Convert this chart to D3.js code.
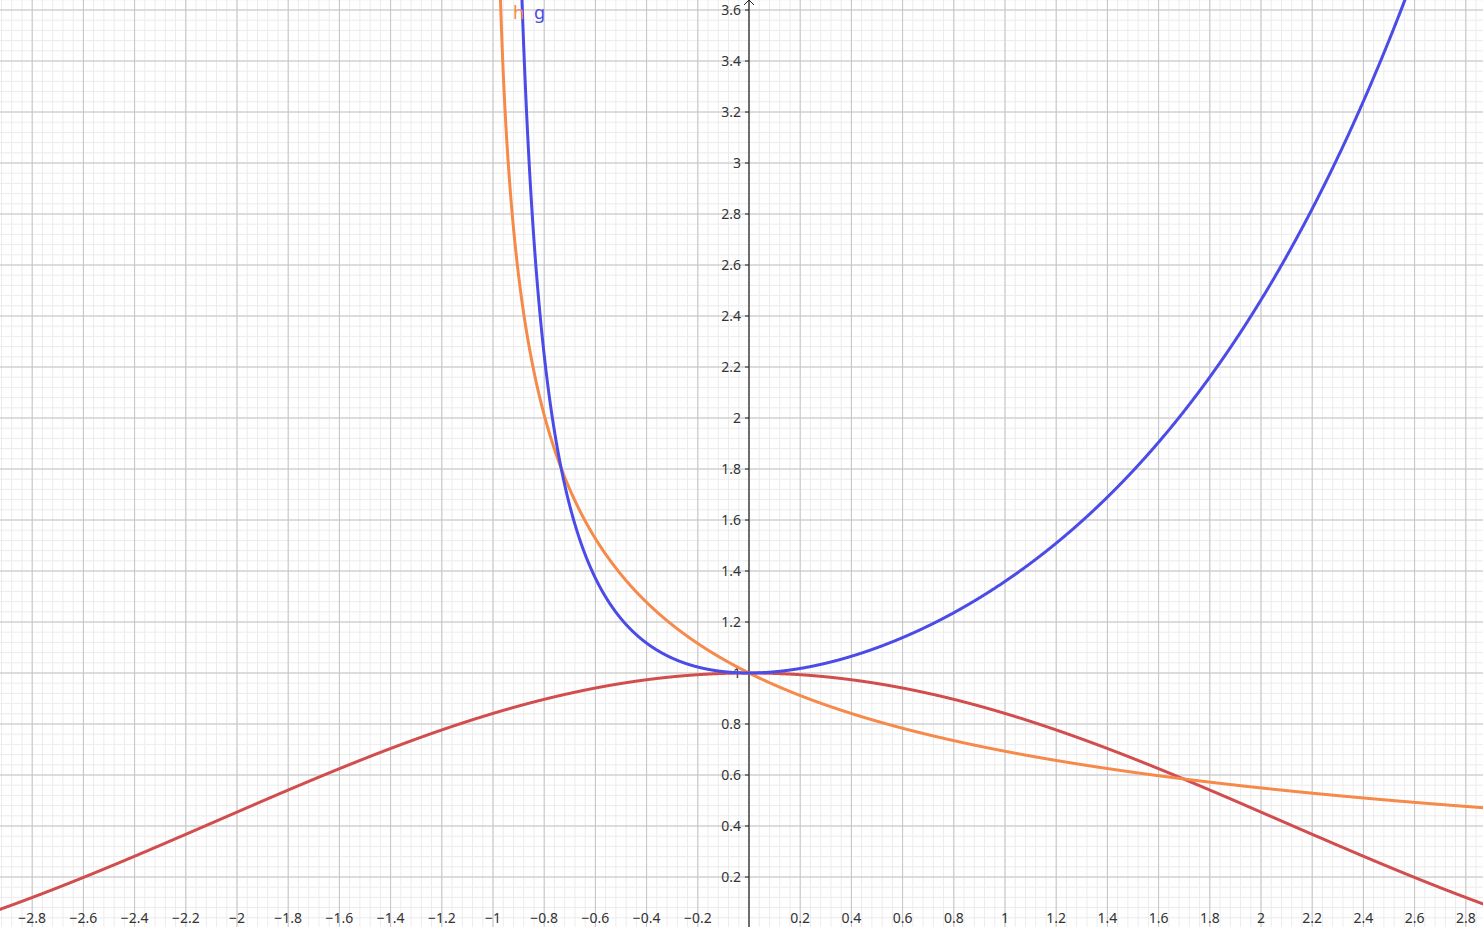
<!DOCTYPE html>
<html><head><meta charset="utf-8">
<script src="https://cdn.jsdelivr.net/npm/d3@7"></script>
<style>body{margin:0;background:#fff}svg{display:block}</style>
</head><body>
<svg id="chart" width="1483" height="927"></svg>
<script>
// plotted functions
const curves = [
  { name: "f", color: "#d24d4d", fn: (x) => (x === 0 ? 1 : Math.sin(x) / x), from: -3, to: 3 },
  { name: "h", color: "#f58a4a", fn: (x) => (x === 0 ? 1 : Math.log(1 + x) / x), from: -0.9999, to: 3 },
  { name: "g", color: "#4b4be8", fn: (x) => Math.exp(x) / (1 + x), from: -0.9999, to: 3 },
];
const xTicks = d3.range(-28, 29, 2).map((d) => d / 10).filter((d) => d !== 0);
const yTicks = d3.range(2, 37, 2).map((d) => d / 10);

const W = 1483, H = 927;
const svg = d3.select("#chart");
const x = d3.scaleLinear().domain([0, 1]).range([749, 1005]);
const y = d3.scaleLinear().domain([0, 1]).range([928, 673]);
const fmt = (v) => (Math.round(v * 10) / 10).toString().replace("-", "\u2212");

// grid
const g = svg.append("g");
const minorX = d3.range(-75, 76).map((d) => d * 0.04);
const minorY = d3.range(0, 95).map((d) => d * 0.04);
g.selectAll(".mx").data(minorX).join("line")
  .attr("x1", (d) => x(d)).attr("x2", (d) => x(d)).attr("y1", 0).attr("y2", H)
  .attr("stroke", "#ececec").attr("stroke-width", 1);
g.selectAll(".my").data(minorY).join("line")
  .attr("y1", (d) => y(d)).attr("y2", (d) => y(d)).attr("x1", 0).attr("x2", W)
  .attr("stroke", "#ececec").attr("stroke-width", 1);
const majorX = d3.range(-15, 16).map((d) => d * 0.2);
const majorY = d3.range(0, 20).map((d) => d * 0.2);
g.selectAll(".Mx").data(majorX).join("line")
  .attr("x1", (d) => x(d)).attr("x2", (d) => x(d)).attr("y1", 0).attr("y2", H)
  .attr("stroke", "#c4c4c4").attr("stroke-width", 1);
g.selectAll(".My").data(majorY).join("line")
  .attr("y1", (d) => y(d)).attr("y2", (d) => y(d)).attr("x1", 0).attr("x2", W)
  .attr("stroke", "#c4c4c4").attr("stroke-width", 1);

// axis
svg.append("line").attr("x1", x(0)).attr("x2", x(0)).attr("y1", 0).attr("y2", H)
  .attr("stroke", "#222").attr("stroke-width", 1.2);
svg.append("path").attr("d", `M${x(0) - 5},5 L${x(0)},0 L${x(0) + 5},5`)
  .attr("fill", "none").attr("stroke", "#222");

const font = "'Noto Sans', sans-serif";
svg.selectAll(".xt").data(xTicks).join("text")
  .attr("x", (d) => x(d)).attr("y", 923).attr("text-anchor", "middle")
  .attr("font-family", font).attr("font-size", 14).attr("fill", "#333")
  .text(fmt);
svg.selectAll(".yt").data(yTicks).join("text")
  .attr("x", x(0) - 8).attr("y", (d) => y(d) + 5).attr("text-anchor", "end")
  .attr("font-family", font).attr("font-size", 14).attr("fill", "#333")
  .text(fmt);
svg.selectAll(".yk").data(yTicks).join("line")
  .attr("x1", x(0) - 4).attr("x2", x(0)).attr("y1", (d) => y(d)).attr("y2", (d) => y(d))
  .attr("stroke", "#222");

// curves
const line = d3.line().x((d) => x(d[0])).y((d) => y(d[1]));
curves.forEach((c) => {
  const pts = [];
  const n = 4000;
  for (let i = 0; i <= n; i++) {
    const t = i / n;
    // denser sampling near the asymptote
    const xv = c.from + (c.to - c.from) * (c.from > -1.5 ? t * t : t);
    const v = c.fn(xv);
    if (v < 5) pts.push([xv, v]);
  }
  svg.append("path").datum(pts).attr("d", line)
    .attr("fill", "none").attr("stroke", c.color).attr("stroke-width", 3);
});

svg.append("text").attr("x", 513).attr("y", 19).attr("font-family", font)
  .attr("font-size", 18).attr("fill", "#f58a4a").text("h");
svg.append("text").attr("x", 534).attr("y", 19).attr("font-family", font)
  .attr("font-size", 18).attr("fill", "#4b4be8").text("g");
</script>
</body></html>
